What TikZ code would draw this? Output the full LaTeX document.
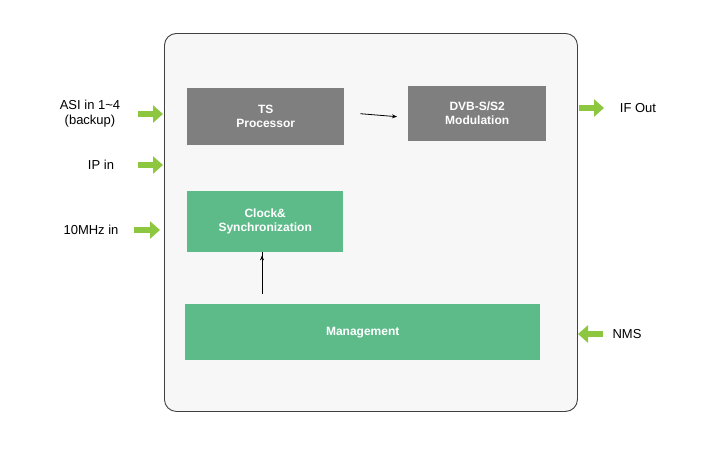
\documentclass[tikz,border=0pt]{standalone}
\usepackage{fontspec}
\setmainfont{Liberation Sans}
\usetikzlibrary{arrows.meta}
\definecolor{gbox}{HTML}{7F7F7F}
\definecolor{tbox}{HTML}{5DBB8A}
\definecolor{lime}{HTML}{8DC63F}
\definecolor{frame}{HTML}{F7F7F7}
\begin{document}
\begin{tikzpicture}[x=1pt,y=-1pt,
  blk/.style={draw=none,inner sep=0pt,font=\bfseries\fontsize{12}{14}\selectfont,text=white,align=center},
  lbl/.style={font=\fontsize{13}{15}\selectfont,align=center,inner sep=1pt},
  fat/.style={lime,line width=6pt,-{Triangle[length=10pt,width=17pt]}},
  thin/.style={black,line width=0.8pt,-{Stealth[length=5pt,width=4pt]}}]
\useasboundingbox (0,0) rectangle (710,456);
\fill[white] (0,0) rectangle (710,456);
\node[draw=black!75,line width=0.9pt,fill=frame,rounded corners=12pt,minimum width=413pt,minimum height=378pt,anchor=north west,inner sep=0] (frame) at (164,33) {};
\node[blk,fill=gbox,minimum width=157pt,minimum height=57pt,anchor=north west] (ts) at (187,88) {TS\\Processor};
\node[blk,fill=gbox,minimum width=138pt,minimum height=55pt,anchor=north west] (dvb) at (408,86) {DVB-S/S2\\Modulation};
\node[blk,fill=tbox,minimum width=156pt,minimum height=61pt,anchor=north west] (clk) at (187,191) {Clock\&\\Synchronization};
\node[blk,fill=tbox,minimum width=355pt,minimum height=56pt,anchor=north west] (mgmt) at (185,304) {Management};
\draw[thin] (ts.east) ++(16,-3) coordinate (t1) -- ([yshift=-3pt]dvb.west -| 397,0);
\draw[thin] (mgmt.north -| 262,0) ++(0,-10) -- (clk.south -| 262,0) ++(0,3);
\node[lbl] (asi) at (90,114) {ASI in 1\textasciitilde4\\(backup)};
\node[lbl] (ip) at (101,165) {IP in};
\node[lbl] (mhz) at (91,230) {10MHz in};
\node[lbl] (ifo) at (638,108) {IF Out};
\node[lbl] (nms) at (627,334) {NMS};
\coordinate (a1) at (138,114); \coordinate (a2) at (163,114);
\coordinate (b1) at (138,165); \coordinate (b2) at (163,165);
\coordinate (c1) at (134,230); \coordinate (c2) at (160,230);
\coordinate (d1) at (579,108); \coordinate (d2) at (604,108);
\coordinate (e1) at (603,334); \coordinate (e2) at (578,334);
\draw[fat] (a1) -- (a2);
\draw[fat] (b1) -- (b2);
\draw[fat] (c1) -- (c2);
\draw[fat] (d1) -- (d2);
\draw[fat] (e1) -- (e2);
\end{tikzpicture}
\end{document}
